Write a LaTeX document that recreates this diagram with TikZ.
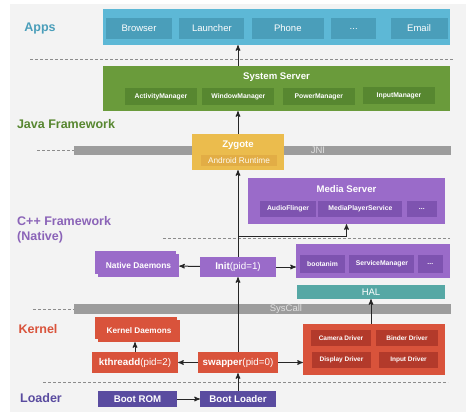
\documentclass[tikz,border=0pt]{standalone}
\usepackage{fontspec}
\setmainfont{Liberation Sans}
\usetikzlibrary{arrows,positioning,shadows}
\definecolor{panel}{HTML}{F3F3F3}
\definecolor{appsblue}{HTML}{5DB8D6}
\definecolor{appsdark}{HTML}{4A9EBA}
\definecolor{javagreen}{HTML}{6A9B3B}
\definecolor{javadark}{HTML}{578730}
\definecolor{zygyellow}{HTML}{EBBC4D}
\definecolor{zygdark}{HTML}{E2AD45}
\definecolor{bargrey}{HTML}{9C9C9C}
\definecolor{natpurple}{HTML}{9A6BC9}
\definecolor{natdark}{HTML}{7E53B0}
\definecolor{halteal}{HTML}{56A8A5}
\definecolor{kernred}{HTML}{D9533B}
\definecolor{kerndark}{HTML}{B33A2B}
\definecolor{loadblue}{HTML}{5A4CA0}
\tikzset{
    %Define standard arrow tip
    >=stealth',
    %Define style for layer boxes
    lag/.style={
           rectangle,
           inner sep=0pt,
           text=white},
    % inner boxes
    indre/.style={
           lag,
           font=\bfseries\fontsize{6.8pt}{8pt}\selectfont},
    appboks/.style={
           lag,
           fill=appsdark,
           minimum height=21pt,
           font=\fontsize{9.5pt}{11pt}\selectfont},
    % boxes of the boot chain
    trinn/.style={
           lag,
           minimum height=21pt,
           font=\fontsize{9.8pt}{11pt}\selectfont},
    % stacked daemon boxes
    stabel/.style={
           copy shadow={shadow xshift=-3pt,shadow yshift=3pt,draw=none,fill=#1},
           fill=#1},
    tittel/.style={
           text=white,
           inner sep=0pt,
           font=\bfseries\fontsize{9.6pt}{11pt}\selectfont},
    % layer names on the left
    lagnavn/.style={
           inner sep=0pt,
           font=\bfseries\fontsize{12.5pt}{15pt}\selectfont},
    % grey interface bars
    bro/.style={
           fill=bargrey,
           inner sep=0pt,
           text=black!12,
           font=\fontsize{9.5pt}{11pt}\selectfont},
    skille/.style={
           draw=black!45,
           line width=0.8pt,
           dash pattern=on 3pt off 2pt},
    % Define arrow style
    strek/.style={
           ->,
           line width=1pt,
           black!85}
}
\begin{document}
\begin{tikzpicture}[x=1pt,y=-1pt,node distance=7pt]
  \useasboundingbox (0,0) rectangle (474,415);
  \fill[white] (0,0) rectangle (474,415);
  \fill[panel] (10,4) rectangle (466,412);
  % Apps
  \node[lagnavn,text=appsdark] (appsnavn) at (40,28) {Apps};
  \node[lag,fill=appsblue,minimum width=347pt,minimum height=36pt] (apps) at (276.5,27) {};
  \node[appboks,minimum width=66pt] (browser) at (139,28.5) {Browser};
  \node[appboks,minimum width=65pt,right=of browser] (launcher) {Launcher};
  \node[appboks,minimum width=72pt,right=of launcher] (phone) {Phone};
  \node[appboks,minimum width=45pt,right=of phone] (flere) {...};
  \node[appboks,minimum width=57pt,right=14pt of flere] (email) {Email};
  \draw[skille] (30,59) -- (453,59);
  % Java Framework
  \node[lag,fill=javagreen,minimum width=347pt,minimum height=45pt] (sysserver) at (276.5,88.5) {};
  \node[tittel] at (276.5,77) {System Server};
  \node[indre,fill=javadark,minimum width=72pt,minimum height=17pt] (activity) at (161,96.5) {ActivityManager};
  \node[indre,fill=javadark,minimum width=72pt,minimum height=17pt,right=5pt of activity] (window) {WindowManager};
  \node[indre,fill=javadark,minimum width=72pt,minimum height=17pt,right=8pt of window] (power) {PowerManager};
  \node[indre,fill=javadark,minimum width=72pt,minimum height=17pt] (input) at (399,95.5) {InputManager};
  \node[lagnavn,text=javadark] (javanavn) at (66,124) {Java Framework};
  % JNI
  \draw[skille] (37,150.5) -- (74,150.5);
  \node[bro,minimum width=377pt,minimum height=9pt] (jni) at (262.5,150.5) {};
  \node[text=black!12,inner sep=0pt,font=\fontsize{9.5pt}{11pt}\selectfont] at (318,150.5) {JNI};
  \node[lag,fill=zygyellow,minimum width=92pt,minimum height=36pt] (zygote) at (238,152) {};
  \node[tittel] at (238,145.5) {Zygote};
  \node[lag,fill=zygdark,minimum width=76pt,minimum height=11pt,font=\fontsize{8.3pt}{9pt}\selectfont,text=white!92!zygyellow] (runtime) at (239,160.5) {Android Runtime};
  % C++ Framework
  \node[lag,fill=natpurple,minimum width=197pt,minimum height=46pt] (mediaserver) at (346.5,201) {};
  \node[tittel] at (346.5,189.5) {Media Server};
  \node[indre,fill=natdark,minimum width=56pt,minimum height=16pt] (audio) at (288,209) {AudioFlinger};
  \node[indre,fill=natdark,minimum width=84pt,minimum height=16pt,right=2pt of audio] (mediaplayer) {MediaPlayerService};
  \node[indre,fill=natdark,minimum width=30pt,minimum height=16pt,right=4pt of mediaplayer] (mediaflere) {...};
  \node[lagnavn,text=natdark!90,anchor=west,align=left] (cppnavn) at (17,230) {C++ Framework\\(Native)};
  \draw[skille] (163,238) -- (450,238);
  \node[trinn,stabel=natpurple,minimum width=81pt,minimum height=23pt,
        font=\bfseries\fontsize{8.4pt}{10pt}\selectfont] (natdaemons) at (138.5,265.5) {Native Daemons};
  \node[trinn,fill=natpurple,minimum width=76pt,minimum height=20pt] (init) at (238,267) {\textbf{Init}(pid=1)};
  \node[lag,fill=natpurple,minimum width=154pt,minimum height=34pt] (natgruppe) at (373,261) {};
  \node[indre,fill=natdark,minimum width=45pt,minimum height=18pt] (bootanim) at (322.5,264) {bootanim};
  \node[indre,fill=natdark,minimum width=65pt,minimum height=18pt,right=4pt of bootanim] (servicemanager) {ServiceManager};
  \node[indre,fill=natdark,minimum width=25pt,minimum height=18pt,right=3pt of servicemanager] (natflere) {...};
  \node[lag,fill=halteal,minimum width=148pt,minimum height=14pt,font=\fontsize{9.5pt}{11pt}\selectfont] (hal) at (371,292) {HAL};
  % SysCall
  \draw[skille] (33,309) -- (74,309);
  \node[bro,minimum width=377pt,minimum height=10pt] (syscall) at (262.5,309) {};
  \node[text=black!12,inner sep=0pt,font=\fontsize{9.5pt}{11pt}\selectfont] at (286,309) {SysCall};
  % Kernel
  \node[lagnavn,text=kernred] (kernnavn) at (38,329) {Kernel};
  \node[trinn,stabel=kernred,minimum width=82pt,minimum height=22pt,
        font=\bfseries\fontsize{8.2pt}{10pt}\selectfont] (kerndaemons) at (139,331) {Kernel Daemons};
  \node[trinn,fill=kernred,minimum width=86pt] (kthreadd) at (135,362.5) {\textbf{kthreadd}(pid=2)};
  \node[trinn,fill=kernred,minimum width=80pt] (swapper) at (238,362.5) {\textbf{swapper}(pid=0)};
  \node[lag,fill=kernred,minimum width=142pt,minimum height=51pt] (drivere) at (374,349.5) {};
  \node[indre,fill=kerndark,minimum width=60pt,minimum height=16pt,font=\bfseries\fontsize{6.5pt}{8pt}\selectfont] (camera) at (341,338) {Camera Driver};
  \node[indre,fill=kerndark,minimum width=62pt,minimum height=16pt,font=\bfseries\fontsize{6.5pt}{8pt}\selectfont] (binder) at (407,338) {Binder Driver};
  \node[indre,fill=kerndark,minimum width=59pt,minimum height=16pt,font=\bfseries\fontsize{6.5pt}{8pt}\selectfont] (display) at (341.5,360) {Display Driver};
  \node[indre,fill=kerndark,minimum width=59pt,minimum height=16pt,font=\bfseries\fontsize{6.5pt}{8pt}\selectfont] (inputdrv) at (408.5,360) {Input Driver};
  \draw[skille] (43,382) -- (448,382);
  % Loader
  \node[lagnavn,text=loadblue] (loadnavn) at (41,398) {Loader};
  \node[trinn,fill=loadblue,minimum width=79pt,minimum height=16pt,font=\bfseries\fontsize{9.7pt}{11pt}\selectfont] (bootrom) at (137.5,399) {Boot ROM};
  \node[trinn,fill=loadblue,minimum width=76pt,minimum height=16pt,font=\bfseries\fontsize{9.7pt}{11pt}\selectfont] (bootloader) at (238,399) {Boot Loader};
  % connections
  \coordinate (forgrening) at (238,236);
  \draw[strek] (bootrom) -- (bootloader);
  \draw[strek] (bootloader) -- (swapper);
  \draw[strek] (swapper) -- (kthreadd);
  \draw[strek] (swapper.east) -- (swapper.east -| drivere.west);
  \draw[strek] (kthreadd.north) -- (kthreadd.north |- kerndaemons.south);
  \draw[strek] (hal.south |- drivere.north) -- (hal.south);
  \draw[strek] (swapper) -- (init);
  \draw[strek] (init) -- (natdaemons);
  \draw[strek] (init.east) -- (init.east -| natgruppe.west);
  \draw[strek] (init.north) -- (zygote.south);
  \draw[strek] (forgrening) -| (mediaserver.south);
  \draw[strek] (zygote.north) -- (zygote.north |- sysserver.south);
  \draw[strek] (sysserver.north -| zygote.north) -- (zygote.north |- apps.south);
\end{tikzpicture}
\end{document}
